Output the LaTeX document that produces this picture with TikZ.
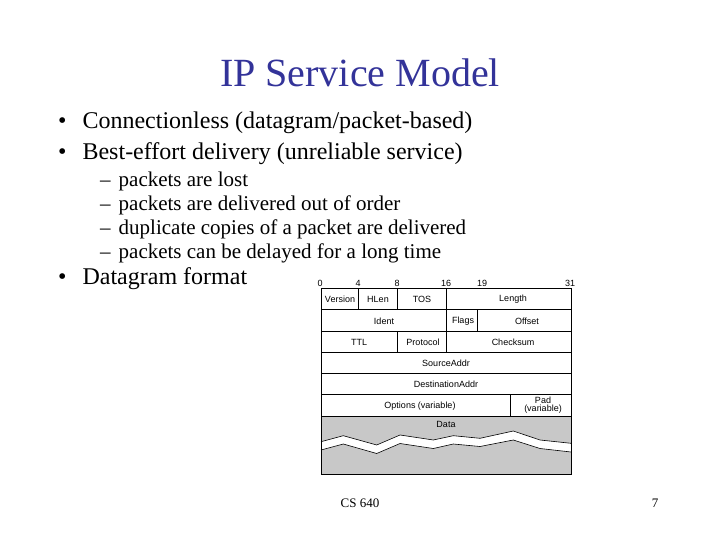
\documentclass[tikz,border=0pt]{standalone}
\usepackage{fontspec}
\setmainfont{Liberation Serif}
\newfontfamily\arialf{Liberation Sans}
\definecolor{ttl}{RGB}{51,51,153}
\definecolor{grayfill}{RGB}{200,200,200}
\begin{document}
\begin{tikzpicture}[x=1pt,y=-1pt,
  big/.style={anchor=west,inner sep=0,font=\fontsize{24}{26}\selectfont},
  sub/.style={anchor=west,inner sep=0,font=\fontsize{21}{22}\selectfont},
  fld/.style={inner sep=0,font=\arialf\fontsize{9}{10}\selectfont},
  box/.style={draw=black,line width=0.8pt}]
\useasboundingbox (0,0) rectangle (720,540);
\node[font=\fontsize{40}{44}\selectfont,text=ttl] (title) at (360,73) {IP Service Model};
\node[big] (b1) at (58,123) {•\hspace{16pt}Connectionless (datagram/packet-based)};
\node[big] (b2) at (58,154) {•\hspace{16pt}Best-effort delivery (unreliable service)};
\node[sub] (d1) at (100,181) {–\hspace{8pt}packets are lost};
\node[sub] (d2) at (100,205) {–\hspace{8pt}packets are delivered out of order};
\node[sub] (d3) at (100,229) {–\hspace{8pt}duplicate copies of a packet are delivered};
\node[sub] (d4) at (100,253) {–\hspace{8pt}packets can be delayed for a long time};
\node[big] (b3) at (58,279) {•\hspace{16pt}Datagram format};
% bit labels
\node[fld] (n0) at (320,283) {0};
\node[fld] (n4) at (358,283) {4};
\node[fld] (n8) at (397,283) {8};
\node[fld] (n16) at (446,283) {16};
\node[fld] (n19) at (482,283) {19};
\node[fld] (n31) at (570,283) {31};
% data area
\fill[grayfill] (321,416) rectangle (571,474);
\fill[white] (321,441.7) -- (343.3,435.7) -- (376.7,445) -- (400,435) -- (433.3,440) -- (453.3,435.7) -- (480,438.3) -- (513.3,431) -- (540,440) -- (571,443.3)
  -- (571,452) -- (540,448.5) -- (513.3,440) -- (480,446.5) -- (453.3,444) -- (433.3,448.5) -- (400,443.5) -- (376.7,453.5) -- (343.3,444) -- (321,450) -- cycle;
\draw[line width=0.6pt] (321,441.7) -- (343.3,435.7) -- (376.7,445) -- (400,435) -- (433.3,440) -- (453.3,435.7) -- (480,438.3) -- (513.3,431) -- (540,440) -- (571,443.3);
\draw[line width=0.6pt] (571,452) -- (540,448.5) -- (513.3,440) -- (480,446.5) -- (453.3,444) -- (433.3,448.5) -- (400,443.5) -- (376.7,453.5) -- (343.3,444) -- (321,450);
\draw[box] (321,416) -- (321,474) -- (571,474) -- (571,416);
% header grid
\draw[box] (321,288.3) rectangle (571,416);
\foreach \yy in {309.3,331.3,352.3,373.3,394.7} \draw[box] (321,\yy) -- (571,\yy);
\draw[box] (358.7,288.3) -- (358.7,309.3);
\draw[box] (397.3,288.3) -- (397.3,309.3);
\draw[box] (446.7,288.3) -- (446.7,352.3);
\draw[box] (477.3,309.3) -- (477.3,331.3);
\draw[box] (397.3,331.3) -- (397.3,352.3);
\draw[box] (510.7,394.7) -- (510.7,416);
\node[fld] (ver) at (340,299) {Version};
\node[fld] (hlen) at (378,299) {HLen};
\node[fld] (tos) at (422,299) {TOS};
\node[fld] (len) at (513,299) {Length};
\node[fld] (ident) at (384,321) {Ident};
\node[fld] (flags) at (463,321) {Flags};
\node[fld] (off) at (527,321) {Offset};
\node[fld] (ttl) at (359,342) {TTL};
\node[fld] (proto) at (423,342) {Protocol};
\node[fld] (chk) at (513,342) {Checksum};
\node[fld] (src) at (446,363) {SourceAddr};
\node[fld] (dst) at (446,384) {DestinationAddr};
\node[fld] (opt) at (420,406) {Options (variable)};
\node[fld,align=center,font=\arialf\fontsize{9}{8.5}\selectfont] (pad) at (543,405) {Pad\\(variable)};
\node[fld] (data) at (446,424) {Data};
\node[inner sep=0,font=\fontsize{13}{14}\selectfont] (cs) at (360,503) {CS 640};
\node[inner sep=0,font=\fontsize{13}{14}\selectfont] (pg) at (655,503) {7};
\end{tikzpicture}
\end{document}
